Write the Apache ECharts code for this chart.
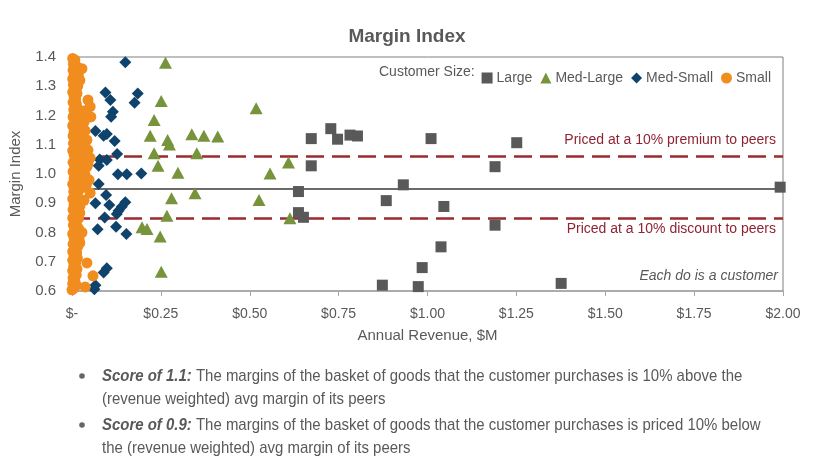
<!DOCTYPE html>
<html><head><meta charset="utf-8">
<script src="https://cdn.jsdelivr.net/npm/echarts@6/dist/echarts.min.js"></script>
<style>html,body{margin:0;padding:0;background:#fff}#c{width:814px;height:468px}</style>
</head><body><div id="c"></div>
<script>
const xTicks = [0, 0.25, 0.5, 0.75, 1.0, 1.25, 1.5, 1.75, 2.0];
const yTicks = [0.6, 0.7, 0.8, 0.9, 1.0, 1.1, 1.2, 1.3, 1.4];
const avgLine = 0.955, premiumLine = 1.063, discountLine = 0.847;

const large = [[0.728,1.155],[0.673,1.121],[0.747,1.119],[0.782,1.133],[0.803,1.130],[1.010,1.121],[1.251,1.107],[0.673,1.028],[1.190,1.025],[0.932,0.963],[0.637,0.940],[1.992,0.955],[0.884,0.909],[1.046,0.889],[0.637,0.868],[0.651,0.852],[1.190,0.825],[1.038,0.751],[0.985,0.680],[0.873,0.620],[0.974,0.615],[1.376,0.626]];
const medLarge = [[0.263,1.380],[0.251,1.250],[0.231,1.185],[0.518,1.225],[0.220,1.131],[0.337,1.136],[0.371,1.131],[0.410,1.128],[0.269,1.116],[0.274,1.101],[0.231,1.071],[0.351,1.071],[0.242,1.028],[0.298,1.004],[0.557,1.002],[0.346,0.934],[0.280,0.917],[0.526,0.911],[0.267,0.857],[0.197,0.818],[0.211,0.812],[0.248,0.786],[0.251,0.666],[0.609,1.039],[0.613,0.849]];
const medSmall = [[0.150,1.382],[0.094,1.279],[0.185,1.275],[0.108,1.253],[0.176,1.244],[0.115,1.213],[0.110,1.196],[0.066,1.147],[0.089,1.131],[0.098,1.137],[0.120,1.113],[0.127,1.068],[0.078,1.050],[0.098,1.048],[0.075,1.028],[0.129,0.999],[0.154,0.999],[0.195,1.002],[0.075,0.966],[0.096,0.928],[0.066,0.900],[0.105,0.894],[0.150,0.903],[0.140,0.888],[0.131,0.874],[0.126,0.863],[0.092,0.851],[0.124,0.820],[0.072,0.811],[0.153,0.795],[0.098,0.678],[0.089,0.663],[0.066,0.620],[0.063,0.606]];
const small = [[0.002,1.395],[0.008,1.39],[0.004,1.375],[0.012,1.37],[0.028,1.36],[0.003,1.355],[0.014,1.35],[0.006,1.34],[0.018,1.335],[0.002,1.325],[0.022,1.32],[0.01,1.315],[0.004,1.305],[0.016,1.30],[0.008,1.29],[0.002,1.28],[0.014,1.275],[0.006,1.265],[0.01,1.255],[0.045,1.253],[0.003,1.245],[0.012,1.24],[0.051,1.23],[0.014,1.228],[0.034,1.215],[0.005,1.22],[0.024,1.205],[0.04,1.205],[0.053,1.195],[0.015,1.2],[0.003,1.195],[0.03,1.19],[0.008,1.18],[0.034,1.178],[0.02,1.17],[0.002,1.165],[0.012,1.16],[0.028,1.155],[0.037,1.148],[0.006,1.145],[0.018,1.14],[0.003,1.13],[0.025,1.13],[0.01,1.125],[0.042,1.116],[0.032,1.11],[0.016,1.11],[0.004,1.105],[0.024,1.095],[0.009,1.09],[0.038,1.09],[0.045,1.082],[0.002,1.08],[0.016,1.075],[0.03,1.07],[0.006,1.065],[0.042,1.062],[0.02,1.058],[0.051,1.055],[0.012,1.048],[0.035,1.045],[0.003,1.04],[0.026,1.035],[0.045,1.035],[0.008,1.025],[0.042,1.024],[0.018,1.02],[0.03,1.012],[0.003,1.008],[0.012,1.0],[0.036,0.998],[0.022,0.99],[0.006,0.985],[0.048,0.98],[0.015,0.975],[0.03,0.97],[0.002,0.965],[0.04,0.962],[0.01,0.955],[0.024,0.95],[0.005,0.94],[0.016,0.935],[0.051,0.935],[0.01,0.925],[0.002,0.915],[0.034,0.91],[0.014,0.905],[0.006,0.895],[0.022,0.89],[0.003,0.878],[0.014,0.875],[0.022,0.867],[0.008,0.862],[0.002,0.85],[0.018,0.848],[0.01,0.838],[0.004,0.825],[0.015,0.82],[0.02,0.81],[0.007,0.808],[0.028,0.80],[0.002,0.795],[0.014,0.79],[0.006,0.78],[0.02,0.775],[0.011,0.768],[0.022,0.764],[0.003,0.76],[0.016,0.752],[0.008,0.745],[0.002,0.735],[0.013,0.73],[0.006,0.72],[0.015,0.712],[0.002,0.705],[0.042,0.696],[0.01,0.695],[0.005,0.685],[0.014,0.675],[0.002,0.67],[0.006,0.662],[0.059,0.652],[0.012,0.655],[0.003,0.645],[0.008,0.635],[0.002,0.625],[0.012,0.62],[0.037,0.614],[0.006,0.61],[0.0,0.604]];

const F = "'Liberation Sans',Arial,sans-serif";
const TXT = '#595959';
const chart = echarts.init(document.getElementById('c'));
const rich = {b: {fontWeight: 'bold', fontStyle: 'italic', fontFamily: F, fontSize: 17, fill: TXT}};
chart.setOption({
  animation: false,
  title: {text: 'Margin Index', left: 'center', top: 22, textStyle: {fontFamily: F, fontSize: 19, fontWeight: 'bold', color: TXT}},
  grid: {left: 70, right: 31, top: 57, bottom: 177, show: true, borderColor: '#7f7f7f', borderWidth: 1},
  legend: {
    data: ['Large', 'Med-Large', 'Med-Small', 'Small'], right: 38, top: 66,
    itemWidth: 11, itemHeight: 11, itemGap: 8,
    textStyle: {fontFamily: F, fontSize: 14, color: TXT, padding: [0, 0, 0, -1]}
  },
  xAxis: {
    type: 'value', min: 0, max: 2, interval: 0.25, splitLine: {show: false},
    name: 'Annual Revenue, $M', nameLocation: 'middle', nameGap: 37,
    nameTextStyle: {fontFamily: F, fontSize: 15, color: TXT},
    axisLine: {lineStyle: {color: '#a6a6a6', width: 1.5}},
    axisTick: {show: true, length: 5, lineStyle: {color: '#a6a6a6'}},
    axisLabel: {fontFamily: F, fontSize: 14, color: TXT, margin: 16,
      formatter: v => v === 0 ? '$-' : '$' + v.toFixed(2)}
  },
  yAxis: {
    type: 'value', min: 0.6, max: 1.4, interval: 0.1, splitLine: {show: false},
    name: 'Margin Index', nameLocation: 'middle', nameGap: 49, nameRotate: 90,
    nameTextStyle: {fontFamily: F, fontSize: 15, color: TXT},
    axisLine: {show: false}, axisTick: {show: false},
    axisLabel: {fontFamily: F, fontSize: 15, color: TXT, margin: 16, formatter: v => v.toFixed(1)}
  },
  series: [
    {type: 'scatter', name: 'refs', data: [], z: 1, silent: true,
     markLine: {symbol: 'none', silent: true, z: 1,
       data: [
         {yAxis: avgLine, lineStyle: {color: '#6b6b6b', width: 2, type: 'solid'}, label: {show: false}},
         {yAxis: premiumLine, lineStyle: {color: '#9b2b2f', width: 2.5, type: [18, 8]},
          label: {show: true, position: 'insideEndTop', distance: [7, 9], formatter: 'Priced at a 10% premium to peers', fontFamily: F, fontSize: 14, color: '#8e2433'}},
         {yAxis: discountLine, lineStyle: {color: '#9b2b2f', width: 2.5, type: [18, 8]},
          label: {show: true, position: 'insideEndBottom', distance: [7, 4], formatter: 'Priced at a 10% discount to peers', fontFamily: F, fontSize: 14, color: '#8e2433'}}
       ]}},
    {name: 'Large', type: 'scatter', symbol: 'rect', symbolSize: 11, itemStyle: {color: '#595959', opacity: 1}, data: large, z: 3},
    {name: 'Med-Large', type: 'scatter', symbol: 'triangle', symbolSize: [13, 12], itemStyle: {color: '#77933c', opacity: 1}, data: medLarge, z: 3},
    {name: 'Med-Small', type: 'scatter', symbol: 'diamond', symbolSize: 12, itemStyle: {color: '#0f436b', opacity: 1}, data: medSmall, z: 3},
    {name: 'Small', type: 'scatter', symbol: 'circle', symbolSize: 11, itemStyle: {color: '#f18d1f', opacity: 1}, data: small, z: 3}
  ],
  graphic: [
    {type: 'text', x: 379, y: 72, style: {text: 'Customer Size:', font: '14px ' + F, fill: TXT, verticalAlign: 'middle'}},
    {type: 'text', x: 778, y: 276, style: {text: 'Each do is a customer', font: 'italic 14px ' + F, fill: TXT, align: 'right', verticalAlign: 'middle'}},
    {type: 'circle', shape: {cx: 82, cy: 376, r: 2.8}, style: {fill: '#666'}},
    {type: 'text', x: 102, y: 376, scaleX: 0.88, style: {text: '{b|Score of 1.1:} The margins of the basket of goods that the customer purchases is 10% above the', rich: rich, font: '17px ' + F, fill: TXT, verticalAlign: 'middle'}},
    {type: 'text', x: 102, y: 399, scaleX: 0.88, style: {text: '(revenue weighted) avg margin of its peers', font: '17px ' + F, fill: TXT, verticalAlign: 'middle'}},
    {type: 'circle', shape: {cx: 82, cy: 425, r: 2.8}, style: {fill: '#666'}},
    {type: 'text', x: 102, y: 425, scaleX: 0.88, style: {text: '{b|Score of 0.9:} The margins of the basket of goods that the customer purchases is priced 10% below', rich: rich, font: '17px ' + F, fill: TXT, verticalAlign: 'middle'}},
    {type: 'text', x: 102, y: 448, scaleX: 0.88, style: {text: 'the (revenue weighted) avg margin of its peers', font: '17px ' + F, fill: TXT, verticalAlign: 'middle'}}
  ]
});
</script></body></html>
